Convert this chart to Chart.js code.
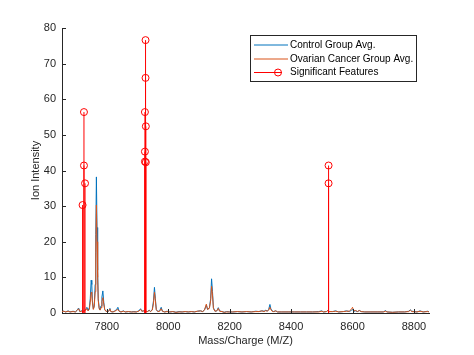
<!DOCTYPE html>
<html><head><meta charset="utf-8">
<script src="https://cdn.jsdelivr.net/npm/chart.js@4.4.1/dist/chart.umd.min.js"></script>
<style>html,body{margin:0;padding:0;background:#fff;}#wrap{width:474px;height:355px;}</style>
</head><body><div id="wrap"><canvas id="c" width="474" height="355"></canvas></div>
<script>
// ---- data ----
const mz = [7650,7660,7666,7674,7680,7690,7698,7704,7708,7712,7718,7722,7730,7735,7739,7743,7746,7749,7751,7753,7756,7759,7762,7764,7766,7768,7770,7772,7775,7778,7781,7784,7787,7790,7793,7797,7802,7806,7810,7813,7820,7826,7832,7836,7840,7846,7854,7860,7870,7880,7888,7896,7904,7910,7914,7920,7932,7938,7942,7948,7952,7955,7958,7961,7966,7972,7977,7981,7988,7996,8005,8015,8025,8035,8045,8055,8065,8075,8085,8095,8105,8112,8118,8124,8128,8134,8138,8141,8144,8147,8152,8158,8163,8167,8175,8182,8190,8200,8210,8225,8240,8255,8270,8285,8295,8305,8312,8318,8322,8327,8331,8334,8338,8343,8350,8356,8370,8390,8410,8430,8450,8470,8490,8500,8505,8515,8520,8524,8535,8545,8555,8570,8580,8590,8597,8600,8604,8610,8616,8622,8628,8640,8660,8680,8700,8708,8712,8730,8750,8770,8783,8788,8793,8810,8820,8830,8845,8850];
const controlAvg = [0.4,0.5,0.3,0.6,0.3,0.5,0.3,0.9,1.4,0.4,0.6,0.4,0.8,1.6,0.7,1.5,4.0,9.2,8.0,3.5,1.2,2.0,8.0,22,38.2,24,12,4.0,1.5,0.9,2.0,4.5,6.2,3.0,1.0,0.5,0.4,0.5,1.3,0.4,0.3,0.6,1.0,1.6,0.5,0.3,0.6,0.3,0.4,0.3,0.4,0.3,0.6,1.2,0.5,0.6,0.4,0.8,0.4,1.0,3.5,7.2,4.0,1.0,0.4,0.6,1.6,0.5,0.3,0.5,0.3,0.4,0.2,0.4,0.3,0.4,0.3,0.4,0.3,0.5,0.6,0.4,0.9,2.2,1.0,1.5,4.0,9.6,6.0,1.5,0.5,0.6,1.5,0.6,0.4,0.2,0.4,0.3,0.3,0.4,0.3,0.4,0.3,0.5,0.4,0.6,0.5,0.8,0.5,1.0,2.4,1.2,0.6,0.4,0.6,0.3,0.3,0.3,0.3,0.3,0.3,0.3,0.4,0.6,0.3,0.4,0.8,0.4,0.4,0.6,0.3,0.4,0.6,0.4,0.8,1.0,0.5,0.6,0.4,0.7,0.4,0.3,0.3,0.3,0.3,0.7,0.3,0.2,0.3,0.3,0.5,0.9,0.5,0.3,0.6,0.3,0.5,0.3];
const cancerAvg = [0.4,0.5,0.3,0.5,0.3,0.4,0.3,0.8,1.2,0.4,0.5,0.4,0.7,1.2,0.6,1.0,3.0,5.8,5.5,3.0,1.0,1.8,6.0,17,30.3,20,10,3.5,1.2,0.8,1.5,3.2,4.3,2.5,1.0,0.5,0.4,0.5,1.1,0.4,0.3,0.5,0.8,1.0,0.5,0.3,0.5,0.3,0.4,0.3,0.3,0.3,0.5,1.0,0.5,0.6,0.4,0.7,0.4,0.8,2.8,5.8,3.5,0.9,0.4,0.5,1.2,0.5,0.3,0.4,0.3,0.4,0.2,0.3,0.3,0.4,0.3,0.4,0.3,0.5,0.6,0.4,0.8,2.5,1.0,1.3,3.5,7.5,5.0,1.3,0.5,0.6,1.3,0.5,0.4,0.2,0.3,0.3,0.3,0.4,0.3,0.4,0.3,0.4,0.4,0.6,0.4,0.7,0.5,0.8,1.6,1.0,0.5,0.4,0.6,0.3,0.3,0.3,0.3,0.3,0.3,0.3,0.3,0.5,0.3,0.4,0.7,0.4,0.4,0.5,0.3,0.4,0.5,0.5,1.2,1.6,0.6,0.7,0.4,0.7,0.4,0.3,0.3,0.3,0.3,0.5,0.3,0.2,0.3,0.3,0.4,0.8,0.4,0.3,0.5,0.3,0.4,0.3];
const featMZ  = [7721,7725.5,7725.5,7729,7924,7924,7924,7926,7926,7927,7927,8522,8522];
const featVal = [30.3,41.4,56.4,36.4,56.4,45.3,42.5,76.6,66.0,52.4,42.3,41.4,36.4];
const xTicks = [7800,8000,8200,8400,8600,8800];
const yTicks = [0,10,20,30,40,50,60,70,80];
const seriesLabels = ['Control Group Avg.','Ovarian Cancer Group Avg.','Significant Features'];
const xTitle = 'Mass/Charge (M/Z)';
const yTitle = 'Ion Intensity';

// ---- build ----
const ctrlPts = mz.map((m,i)=>({x:m,y:controlAvg[i]}));
const cancPts = mz.map((m,i)=>({x:m,y:cancerAvg[i]}));
const stemPts = [];
featMZ.forEach((m,i)=>{stemPts.push({x:m,y:0},{x:m,y:featVal[i],top:true},{x:m,y:null});});

const FONT = '"Liberation Sans", Arial, sans-serif';
const AX = '#262626';

const innerTicks = {
  id:'innerTicks',
  afterDraw(chart){
    const {ctx, chartArea:a, scales:{x,y}} = chart;
    ctx.save(); ctx.strokeStyle=AX; ctx.lineWidth=1; ctx.beginPath();
    x.ticks.forEach(t=>{const p=Math.round(x.getPixelForValue(t.value))+0.5; ctx.moveTo(p,a.bottom); ctx.lineTo(p,a.bottom-4);});
    y.ticks.forEach(t=>{const p=Math.round(y.getPixelForValue(t.value))+0.5; ctx.moveTo(a.left,p); ctx.lineTo(a.left+4,p);});
    ctx.stroke(); ctx.restore();
  }
};
const matLegend = {
  id:'matLegend',
  afterDraw(chart){
    const ctx=chart.ctx; const ds=chart.data.datasets;
    const bx=250.5, by=35.5, bw=166, bh=46;
    ctx.save();
    ctx.fillStyle='#fff'; ctx.fillRect(bx,by,bw,bh);
    ctx.strokeStyle=AX; ctx.lineWidth=1; ctx.strokeRect(bx,by,bw,bh);
    const rows=[45,59,72.5];
    ds.forEach((d,i)=>{
      const yy=rows[i];
      ctx.strokeStyle=d.borderColor; ctx.lineWidth=1;
      ctx.beginPath(); ctx.moveTo(254,yy); ctx.lineTo(i===2?282:288,yy); ctx.stroke();
      if(i===2){ctx.beginPath(); ctx.arc(278,yy,3.5,0,Math.PI*2); ctx.stroke();}
      ctx.fillStyle='#000'; ctx.font='10px '+FONT; ctx.textBaseline='middle'; ctx.textAlign='left';
      ctx.fillText(d.label,290,yy);
    });
    ctx.restore();
  }
};

new Chart(document.getElementById('c'),{
  type:'line',
  data:{datasets:[
    {label:seriesLabels[0],data:ctrlPts,borderColor:'#0072BD',borderWidth:1,pointRadius:0,order:3,tension:0},
    {label:seriesLabels[1],data:cancPts,borderColor:'#D95319',borderWidth:1,pointRadius:0,order:2,tension:0},
    {label:seriesLabels[2],data:stemPts,borderColor:'#FF0000',borderWidth:1,spanGaps:false,order:1,tension:0,
      pointRadius:c=>(c.raw&&c.raw.top)?3.5:0,pointBorderColor:'#FF0000',pointBackgroundColor:'rgba(0,0,0,0)',pointBorderWidth:1,pointStyle:'circle'}
  ]},
  options:{
    responsive:false,animation:false,devicePixelRatio:1,
    layout:{padding:{left:0,top:28,right:45,bottom:0}},
    plugins:{legend:{display:false},tooltip:{enabled:false}},
    scales:{
      x:{type:'linear',min:7654,max:8849,
        afterBuildTicks:s=>{s.ticks=xTicks.map(v=>({value:v}));},
        afterFit:s=>{s.height=42;},
        ticks:{callback:v=>String(v),font:{family:FONT,size:11},color:AX,padding:7,maxRotation:0,autoSkip:false},
        grid:{drawOnChartArea:false,drawTicks:false},
        border:{color:AX,width:1},
        title:{display:true,text:xTitle,font:{family:FONT,size:11},color:AX,padding:{top:0,bottom:7.4}}
      },
      y:{type:'linear',min:0,max:80,
        afterBuildTicks:s=>{s.ticks=yTicks.map(v=>({value:v}));},
        afterFit:s=>{s.width=62;},
        ticks:{callback:v=>String(v),font:{family:FONT,size:11},color:AX,padding:6},
        grid:{drawOnChartArea:false,drawTicks:false},
        border:{color:AX,width:1},
        title:{display:true,text:yTitle,font:{family:FONT,size:11},color:AX,padding:{top:29.4,bottom:0}}
      }
    }
  },
  plugins:[innerTicks,matLegend]
});
</script></body></html>
